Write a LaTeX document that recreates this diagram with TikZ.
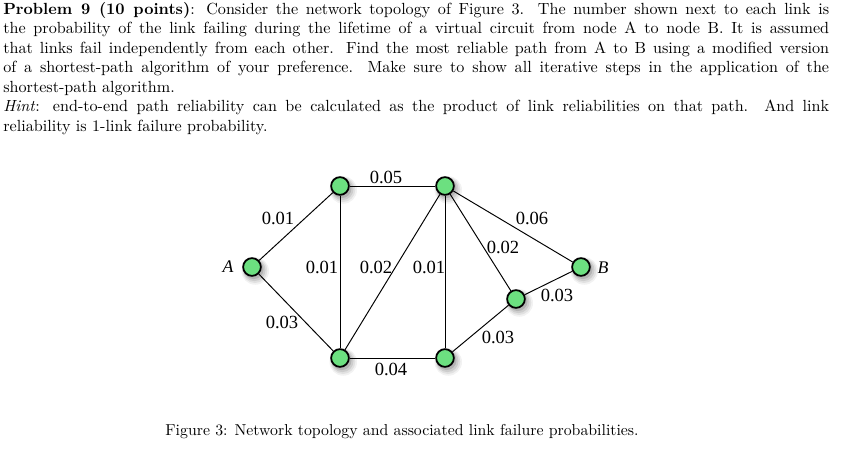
\documentclass[tikz,border=0pt]{standalone}
\usepackage{fontspec}
\newfontfamily\lblfont{Liberation Serif}
\usetikzlibrary{shadows,backgrounds}
\definecolor{nodegreen}{RGB}{108,224,128}
\begin{document}
\begin{tikzpicture}[x=0.62pt,y=-0.62pt,
  vtx/.style={circle, draw=black, line width=1.1pt, fill=nodegreen, minimum size=11pt, inner sep=0pt,
    general shadow={shadow xshift=1.3pt, shadow yshift=-1.6pt, shadow scale=1.55, fill=black, opacity=0.05},
    general shadow={shadow xshift=1.3pt, shadow yshift=-1.6pt, shadow scale=1.4, fill=black, opacity=0.07},
    general shadow={shadow xshift=1.2pt, shadow yshift=-1.5pt, shadow scale=1.25, fill=black, opacity=0.09},
    general shadow={shadow xshift=1.0pt, shadow yshift=-1.3pt, shadow scale=1.1, fill=black, opacity=0.12}},
  link/.style={draw=black, line width=0.6pt},
  lbl/.style={font=\lblfont\fontsize{11.5}{12}\selectfont, inner sep=0pt},
  ab/.style={font=\lblfont\itshape\fontsize{11}{12}\selectfont, inner sep=0pt},
  txt/.style={inner sep=0pt, font=\fontsize{10}{12.15}\selectfont}]
\useasboundingbox (0,0) rectangle (858,457);
\node[txt, anchor=base west] (body) at (3,14) {\parbox[t]{512pt}{\parindent=0pt\fontsize{10}{12.15}\selectfont
\textbf{Problem 9 (10 points)}: Consider the network topology of Figure 3.  The number shown next to each link is\linebreak
the probability of the link failing during the lifetime of a virtual circuit from node A to node B. It is assumed\linebreak
that links fail independently from each other.  Find the most reliable path from A to B using a modified version\linebreak
of a shortest-path algorithm of your preference.  Make sure to show all iterative steps in the application of the\linebreak
shortest-path algorithm.\par
\emph{Hint}: end-to-end path reliability can be calculated as the product of link reliabilities on that path.  And link\linebreak
reliability is 1-link failure probability.}};
% vertices
\node[vtx] (A)  at (252,267) {};
\node[vtx] (TL) at (340,186) {};
\node[vtx] (TR) at (445,186) {};
\node[vtx] (BL) at (340,358) {};
\node[vtx] (BR) at (445,358) {};
\node[vtx] (LR) at (516,299) {};
\node[vtx] (B)  at (581,267) {};
\node[ab] (Alab) at (228,267) {A};
\node[ab] (Blab) at (603,268) {B};
% links
\begin{scope}[on background layer]
\draw[link] (TL) -- (TR);
\draw[link] (A) -- (TL);
\draw[link] (A) -- (BL);
\draw[link] (TL) -- (BL);
\draw[link] (BL) -- (TR);
\draw[link] (TR) -- (BR);
\draw[link] (BL) -- (BR);
\draw[link] (TR) -- (B);
\draw[link] (TR) -- (LR);
\draw[link] (LR) -- (B);
\draw[link] (BR) -- (LR);
\end{scope}
% labels
\node[lbl] (l1) at (386,177) {0.05};
\node[lbl] (l2) at (278,218) {0.01};
\node[lbl] (l3) at (322,267) {0.01};
\node[lbl] (l4) at (376,267) {0.02};
\node[lbl] (l5) at (429,267) {0.01};
\node[lbl] (l6) at (532,218) {0.06};
\node[lbl] (l7) at (503,247) {0.02};
\node[lbl] (l8) at (557,295) {0.03};
\node[lbl] (l9) at (282,322) {0.03};
\node[lbl] (l10) at (498,337) {0.03};
\node[lbl] (l11) at (391,369) {0.04};
% caption
\node[txt, anchor=base] (cap) at (402,435) {\fontsize{9.8}{12}\selectfont Figure 3: Network topology and associated link failure probabilities.};
\end{tikzpicture}
\end{document}
